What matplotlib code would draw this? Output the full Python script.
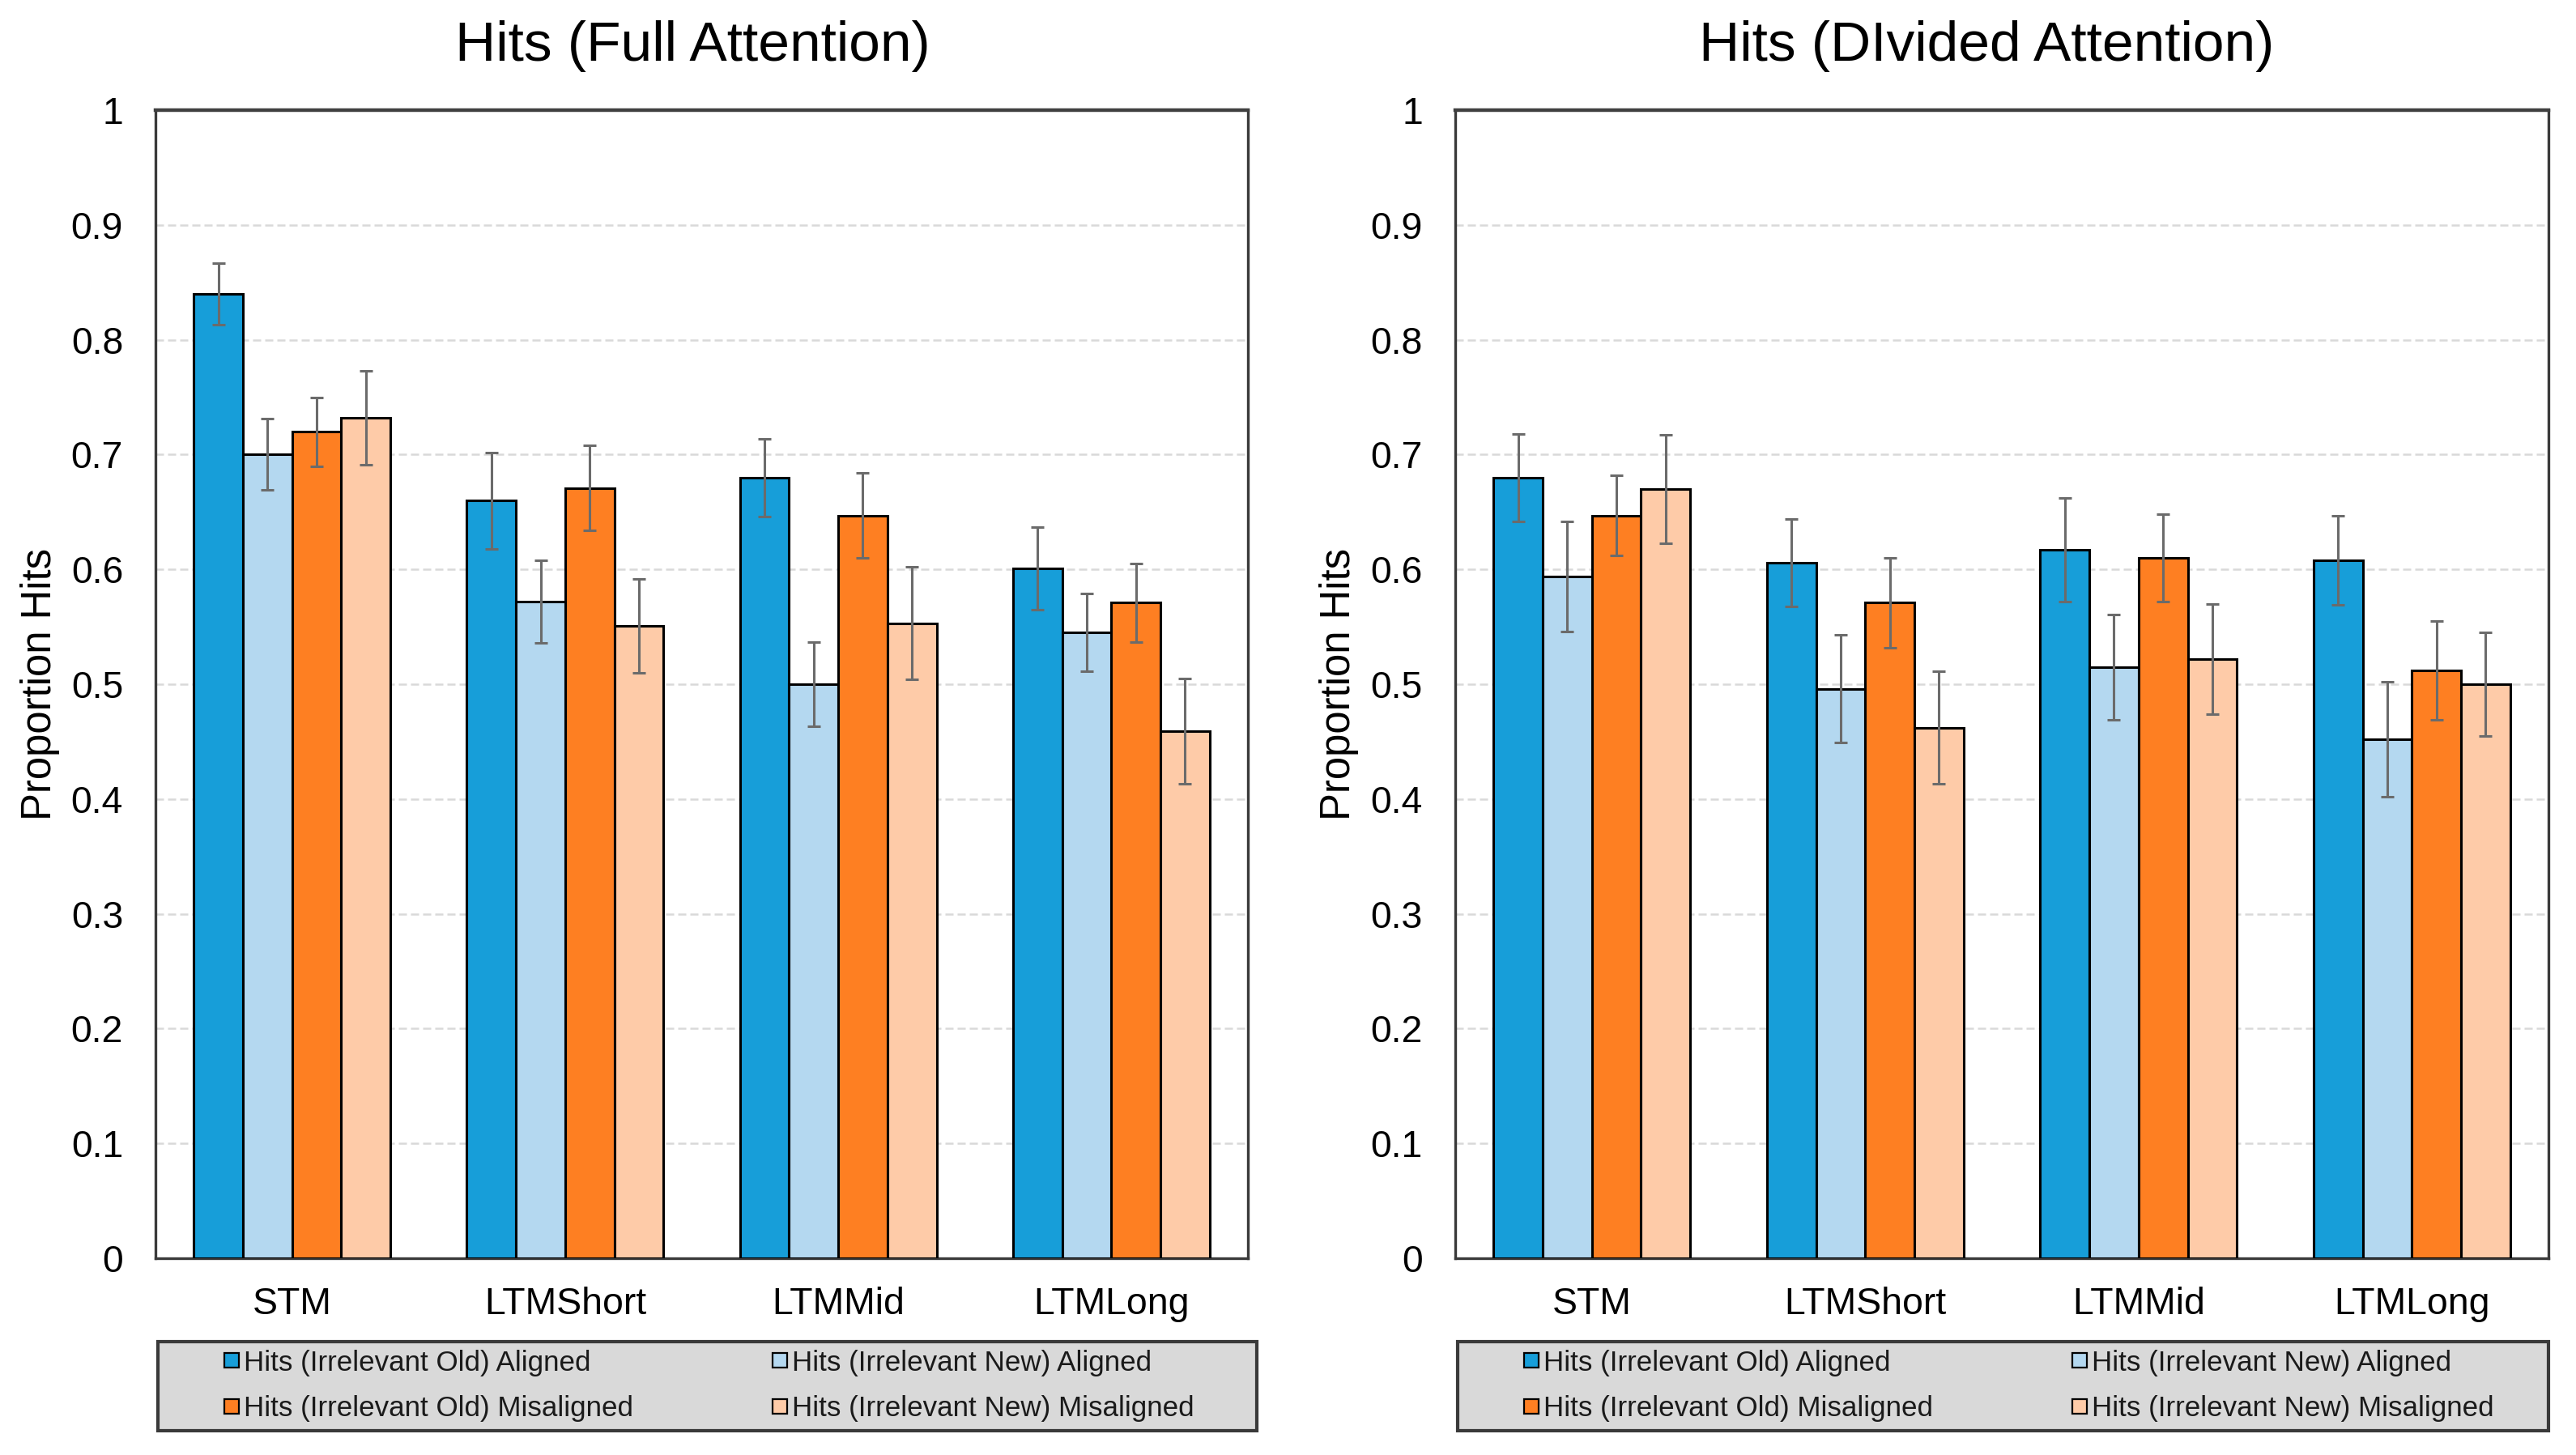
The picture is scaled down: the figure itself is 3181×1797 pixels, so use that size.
import matplotlib
matplotlib.use("Agg")
import matplotlib.pyplot as plt
import numpy as np
from matplotlib.lines import Line2D
from matplotlib.patches import Rectangle

plt.rcParams['font.family'] = ['Liberation Sans', 'DejaVu Sans']

categories = ["STM", "LTMShort", "LTMMid", "LTMLong"]
series_names = ["Hits (Irrelevant Old) Aligned", "Hits (Irrelevant New) Aligned",
                "Hits (Irrelevant Old) Misaligned", "Hits (Irrelevant New) Misaligned"]
colors = ["#179ed9", "#b4d8f0", "#fe7f22", "#fecba8"]

# Full attention
full_old_aligned = [0.840, 0.660, 0.680, 0.601]
full_new_aligned = [0.700, 0.572, 0.500, 0.545]
full_old_misaligned = [0.720, 0.671, 0.647, 0.571]
full_new_misaligned = [0.732, 0.551, 0.553, 0.459]
full_err_old_aligned = [0.027, 0.042, 0.034, 0.036]
full_err_new_aligned = [0.031, 0.036, 0.037, 0.034]
full_err_old_misaligned = [0.030, 0.037, 0.037, 0.034]
full_err_new_misaligned = [0.041, 0.041, 0.049, 0.046]

# Divided attention
div_old_aligned = [0.680, 0.606, 0.617, 0.608]
div_new_aligned = [0.594, 0.496, 0.515, 0.452]
div_old_misaligned = [0.647, 0.571, 0.610, 0.512]
div_new_misaligned = [0.670, 0.462, 0.522, 0.500]
div_err_old_aligned = [0.038, 0.038, 0.045, 0.039]
div_err_new_aligned = [0.048, 0.047, 0.046, 0.050]
div_err_old_misaligned = [0.035, 0.039, 0.038, 0.043]
div_err_new_misaligned = [0.047, 0.049, 0.048, 0.045]

yticks = [0, 0.1, 0.2, 0.3, 0.4, 0.5, 0.6, 0.7, 0.8, 0.9, 1.0]
ytick_labels = ["0", "0.1", "0.2", "0.3", "0.4", "0.5", "0.6", "0.7", "0.8", "0.9", "1"]

titles = ["Hits (Full Attention)", "Hits (DIvided Attention)"]

W, H = 3181, 1797
fig = plt.figure(figsize=(W / 200, H / 200), dpi=200)

ax_rects = [
    [192 / W, 1 - 1554 / H, 1349 / W, 1418 / H],
    [1797 / W, 1 - 1554 / H, 1350 / W, 1418 / H],
]
title_x = [855 / W, 2453 / W]
box_rects = [(195, 1552), (1800, 3147)]
legend_x = [(280, 957), (1885, 2562)]

panels = [
    ([full_old_aligned, full_new_aligned, full_old_misaligned, full_new_misaligned],
     [full_err_old_aligned, full_err_new_aligned, full_err_old_misaligned, full_err_new_misaligned]),
    ([div_old_aligned, div_new_aligned, div_old_misaligned, div_new_misaligned],
     [div_err_old_aligned, div_err_new_aligned, div_err_old_misaligned, div_err_new_misaligned]),
]

bw = 0.18
x = np.arange(len(categories))

for p, (vals, errs) in enumerate(panels):
    ax = fig.add_axes(ax_rects[p])
    for i in range(4):
        ax.bar(x + (i - 1.5) * bw, vals[i], width=bw, color=colors[i],
               edgecolor="black", linewidth=1.1, zorder=3)
        ax.errorbar(x + (i - 1.5) * bw, vals[i], yerr=errs[i], fmt="none",
                    ecolor="#6b6b6b", elinewidth=1.1, capsize=2.9, capthick=1.1, zorder=4)
    ax.set_xlim(-0.5, 3.5)
    ax.set_ylim(0, 1)
    ax.set_yticks(yticks)
    ax.set_yticklabels(ytick_labels)
    ax.set_xticks(x)
    ax.set_xticklabels(categories)
    ax.tick_params(axis="y", length=0, pad=14.4, labelsize=16.7, labelcolor="black")
    ax.tick_params(axis="x", length=0, pad=12.5, labelsize=16.7, labelcolor="black")
    ax.yaxis.grid(True, color="#d9d9d9", linestyle=(0, (4, 2)), linewidth=0.9, zorder=0)
    ax.set_axisbelow(True)
    for s in ["left", "bottom", "right"]:
        ax.spines[s].set_color("#3a3a3a")
        ax.spines[s].set_linewidth(1.2)
    ax.spines["top"].set_color("#404040")
    ax.spines["top"].set_linewidth(1.6)
    ax.set_ylabel("Proportion Hits", fontsize=18.3, va="center")
    ax.yaxis.set_label_coords(-0.106, 0.5)

    fig.text(title_x[p], 1 - 75 / H, titles[p], fontsize=25, ha="center", va="baseline")

    # legend box
    bx0, bx1 = box_rects[p]
    rect = Rectangle((bx0 / W, 1 - 1767 / H), (bx1 - bx0) / W, 110 / H,
                     transform=fig.transFigure, facecolor="#d9d9d9",
                     edgecolor="#3a3a3a", linewidth=1.5, zorder=1)
    fig.patches.append(rect)

    handles = [Line2D([], [], marker="s", linestyle="none", markersize=6.8,
                      markerfacecolor=colors[i], markeredgecolor="black",
                      markeredgewidth=0.8) for i in range(4)]
    cols = [[0, 2], [1, 3]]
    for c in range(2):
        leg = fig.legend([handles[k] for k in cols[c]], [series_names[k] for k in cols[c]],
                         loc="center left",
                         bbox_to_anchor=(legend_x[p][c] / W - 0.001, 1 - 1711.5 / H),
                         bbox_transform=fig.transFigure,
                         frameon=False, fontsize=12.6, borderpad=0, borderaxespad=0,
                         handlelength=0.55, handletextpad=0.15, labelspacing=0.68,
                         labelcolor="#1a1a1a")
        leg.set_zorder(5)

fig.savefig("out.png", dpi=200)
